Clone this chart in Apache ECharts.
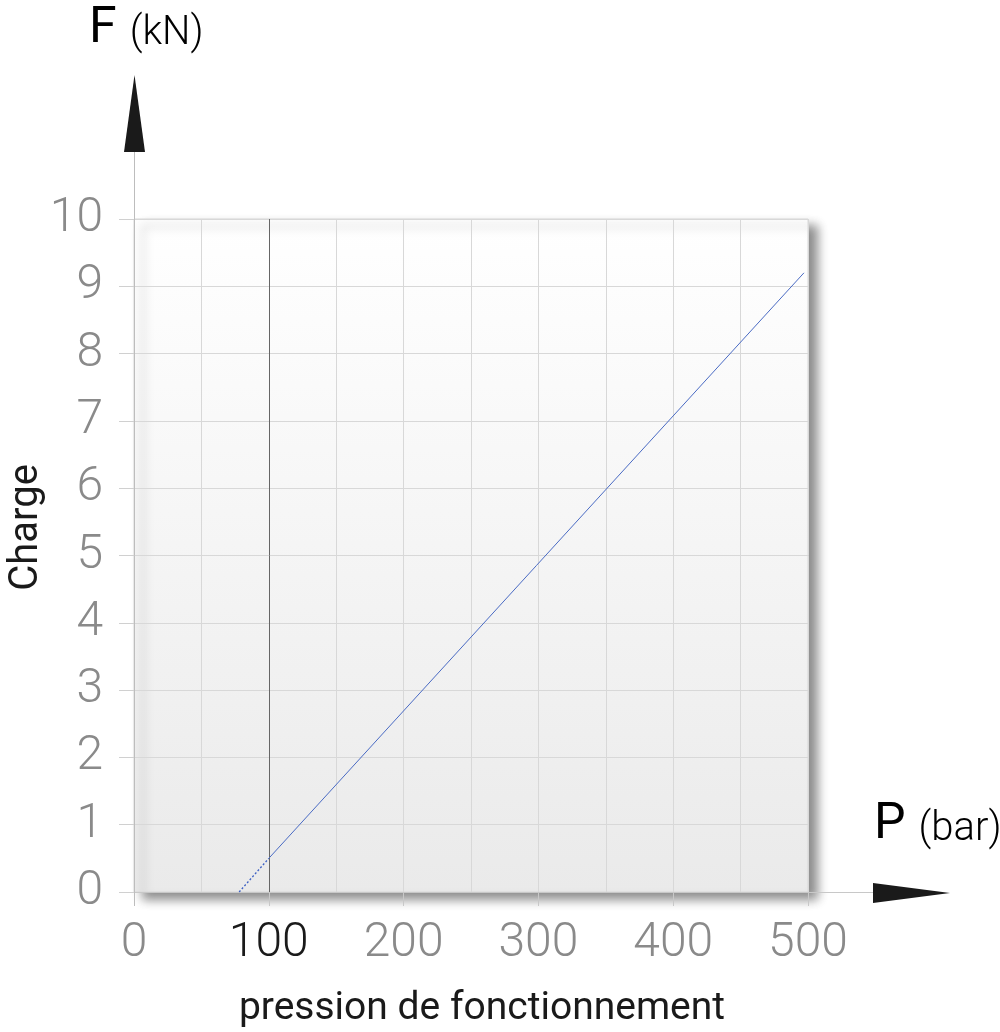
<!DOCTYPE html>
<html>
<head>
<meta charset="utf-8">
<script src="https://cdn.jsdelivr.net/npm/echarts@6/dist/echarts.min.js"></script>
<style>
html,body{margin:0;padding:0;background:#fff;}
#chart{width:1000px;height:1032px;}
</style>
</head>
<body>
<div id="chart"></div>
<script>
// ---- data ----
const pressureDotted = [78, 100];
const chargeDotted = [0, 0.5];
const pressureSolid = [100, 497];
const chargeSolid = [0.5, 9.2];
const referencePressure = 100;
const xTickValues = [0, 100, 200, 300, 400, 500];
const yTickValues = [0, 1, 2, 3, 4, 5, 6, 7, 8, 9, 10];
const highlightedXTick = 100;

const dottedData = pressureDotted.map((p, i) => [p, chargeDotted[i]]);
const solidData = pressureSolid.map((p, i) => [p, chargeSolid[i]]);

const GRAY = '#8a8a8a';
const BLACK = '#1a1a1a';
const FONT = 'Roboto, "Noto Sans", sans-serif';

const chart = echarts.init(document.getElementById('chart'), null, {renderer: 'canvas'});

const option = {
  backgroundColor: '#ffffff',
  animation: false,
  grid: {
    left: 134, top: 219, width: 674, height: 673,
    containLabel: false,
    outerBoundsMode: 'none',
    show: true,
    borderColor: '#d8d8d8',
    borderWidth: 1,
    backgroundColor: new echarts.graphic.LinearGradient(0, 0, 0, 1, [
      {offset: 0, color: '#ffffff'},
      {offset: 0.2, color: '#fbfbfb'},
      {offset: 1, color: '#eaeaea'}
    ]),
    shadowColor: 'rgba(0,0,0,0.45)',
    shadowBlur: 10,
    shadowOffsetX: 9,
    shadowOffsetY: 7
  },
  xAxis: {
    type: 'value',
    min: xTickValues[0],
    max: xTickValues[xTickValues.length - 1],
    interval: 100,
    name: 'pression de fonctionnement',
    nameLocation: 'middle',
    nameGap: 98,
    nameTextStyle: {fontFamily: FONT, fontSize: 39, color: BLACK, padding: [0, 0, 0, 22]},
    axisLine: {show: true, lineStyle: {color: '#c8c8c8', width: 1}},
    axisTick: {show: true, length: 14, lineStyle: {color: '#c8c8c8'}},
    minorTick: {show: false, splitNumber: 2},
    splitLine: {show: true, lineStyle: {color: '#d8d8d8', width: 1}},
    minorSplitLine: {show: true, lineStyle: {color: '#d8d8d8', width: 1}},
    axisLabel: {
      margin: 28,
      fontFamily: FONT,
      fontWeight: 300,
      fontSize: 48,
      color: (v) => (Number(v) === highlightedXTick ? BLACK : GRAY)
    }
  },
  yAxis: {
    type: 'value',
    min: yTickValues[0],
    max: yTickValues[yTickValues.length - 1],
    interval: 1,
    name: 'Charge',
    nameLocation: 'middle',
    nameRotate: 90,
    nameGap: 87,
    nameMoveOverlap: false,
    nameTextStyle: {fontFamily: FONT, fontSize: 40, color: BLACK, padding: [0, 0, 0, 56]},
    axisLine: {show: true, lineStyle: {color: '#bdbdbd', width: 1}},
    axisTick: {show: true, length: 15, lineStyle: {color: '#d0d0d0'}},
    splitLine: {show: true, lineStyle: {color: '#d8d8d8', width: 1}},
    axisLabel: {
      margin: 31,
      fontFamily: FONT,
      fontWeight: 300,
      fontSize: 48,
      color: GRAY
    }
  },
  series: [
    {
      type: 'line',
      data: dottedData,
      showSymbol: false,
      symbol: 'none',
      lineStyle: {color: '#3f62c4', width: 1.3, type: [2, 2]},
      z: 5,
      markLine: {
        silent: true,
        symbol: 'none',
        label: {show: false},
        lineStyle: {color: '#666666', width: 1, type: 'solid'},
        data: [{xAxis: referencePressure}]
      }
    },
    {
      type: 'line',
      data: solidData,
      showSymbol: false,
      symbol: 'none',
      lineStyle: {color: '#4a6bc4', width: 1},
      z: 5
    }
  ],
  graphic: [
    // axis extensions and arrows
    {type: 'line', shape: {x1: 134.5, y1: 150, x2: 134.5, y2: 219}, style: {stroke: '#bdbdbd', lineWidth: 1}, z: 10},
    {type: 'line', shape: {x1: 134.5, y1: 892, x2: 134.5, y2: 906}, style: {stroke: '#bdbdbd', lineWidth: 1}, z: 10},
    {type: 'line', shape: {x1: 808, y1: 892.5, x2: 875, y2: 892.5}, style: {stroke: '#c8c8c8', lineWidth: 1}, z: 10},
    {type: 'polygon', shape: {points: [[124, 152], [145, 152], [134.5, 75]]}, style: {fill: BLACK}, z: 10},
    {type: 'polygon', shape: {points: [[873, 883], [873, 903], [950, 893]]}, style: {fill: BLACK}, z: 10},
    {
      type: 'text', left: 89, top: 4, z: 10,
      style: {
        text: '{a|F}{b|(kN)}',
        rich: {
          a: {fontFamily: FONT, fontSize: 50, color: BLACK, verticalAlign: 'bottom', padding: [0, 13, 0, 0]},
          b: {fontFamily: FONT, fontSize: 40, fontWeight: 300, color: GRAY, verticalAlign: 'bottom'}
        }
      }
    },
    {
      type: 'text', left: 874, top: 800, z: 10,
      style: {
        text: '{a|P}{b|(bar)}',
        rich: {
          a: {fontFamily: FONT, fontSize: 50, color: BLACK, verticalAlign: 'bottom', padding: [0, 13, 0, 0]},
          b: {fontFamily: FONT, fontSize: 40, fontWeight: 300, color: GRAY, verticalAlign: 'bottom'}
        }
      }
    }
  ]
};
chart.setOption(option);
</script>
</body>
</html>
